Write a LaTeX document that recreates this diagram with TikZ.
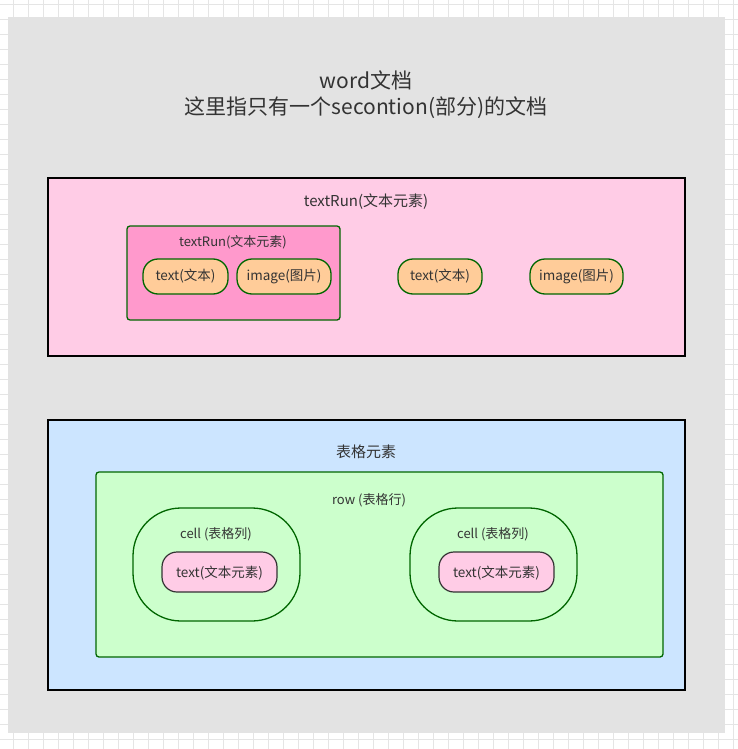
\documentclass[tikz,border=0pt]{standalone}
\usepackage{fontspec}
\setmainfont{Noto Sans CJK SC}
\begin{document}
\begin{tikzpicture}[x=1pt,y=-1pt,
  gbox/.style={draw=black,line width=1.3pt},
  grn/.style={draw=green!40!black,line width=1.3pt,rounded corners=3pt},
  pill/.style={draw=green!40!black,line width=1.3pt,rounded corners=15pt},
  tpill/.style={draw=black!80,line width=1.2pt,rounded corners=15pt},
  cellbox/.style={draw=green!40!black,line width=1.3pt,rounded corners=48pt},
  lbl/.style={text=black!80,inner sep=0pt}]
\useasboundingbox (0,0) rectangle (738,749);
\fill[white] (0,0) rectangle (738,749);
\draw[black!10,line width=0.6pt,step=15pt,shift={(13,4)}] (-13,-4) grid (725,745);
\fill[black!11] (8,17) rectangle (725,733);
\node[lbl,font=\fontsize{21}{26}\selectfont,align=center] (title) at (366,95) {word文档\\这里指只有一个secontion(部分)的文档};
% textRun section
\draw[gbox,fill={rgb,255:red,255;green,204;blue,230}] (48,178) rectangle (685,356);
\node[lbl,font=\fontsize{15}{17}\selectfont] (tr) at (366,202) {textRun(文本元素)};
\draw[grn,fill={rgb,255:red,255;green,153;blue,204}] (127,226) rectangle (340,320);
\node[lbl,font=\fontsize{13}{15}\selectfont] (tri) at (233,242) {textRun(文本元素)};
\draw[pill,fill={rgb,255:red,255;green,204;blue,153}] (143,259) rectangle (228,294);
\node[lbl,font=\fontsize{13.5}{15}\selectfont] (t1) at (185.5,276.5) {text(文本)};
\draw[pill,fill={rgb,255:red,255;green,204;blue,153}] (237,259) rectangle (331,294);
\node[lbl,font=\fontsize{13.5}{15}\selectfont] (i1) at (284,276.5) {image(图片)};
\draw[pill,fill={rgb,255:red,255;green,204;blue,153}] (398,259) rectangle (482,294);
\node[lbl,font=\fontsize{13.5}{15}\selectfont] (t2) at (440,276.5) {text(文本)};
\draw[pill,fill={rgb,255:red,255;green,204;blue,153}] (530,259) rectangle (623,294);
\node[lbl,font=\fontsize{13.5}{15}\selectfont] (i2) at (576.5,276.5) {image(图片)};
% table section
\draw[gbox,fill={rgb,255:red,204;green,229;blue,255}] (48,420) rectangle (685,690);
\node[lbl,font=\fontsize{15}{17}\selectfont] (tab) at (366,452) {表格元素};
\draw[grn,fill={rgb,255:red,204;green,255;blue,204}] (96,472) rectangle (663,657);
\node[lbl,font=\fontsize{13}{15}\selectfont] (row) at (369,500) {row (表格行)};
\draw[cellbox] (133,508) rectangle (300,621);
\node[lbl,font=\fontsize{13}{15}\selectfont] (c1) at (216,534) {cell (表格列)};
\draw[cellbox] (410,508) rectangle (577,621);
\node[lbl,font=\fontsize{13}{15}\selectfont] (c2) at (493,534) {cell (表格列)};
\draw[tpill,fill={rgb,255:red,255;green,204;blue,230}] (162,552) rectangle (277,592);
\node[lbl,font=\fontsize{13.5}{15}\selectfont] (x1) at (219.5,573) {text(文本元素)};
\draw[tpill,fill={rgb,255:red,255;green,204;blue,230}] (439,552) rectangle (554,592);
\node[lbl,font=\fontsize{13.5}{15}\selectfont] (x2) at (496.5,573) {text(文本元素)};
\end{tikzpicture}
\end{document}
